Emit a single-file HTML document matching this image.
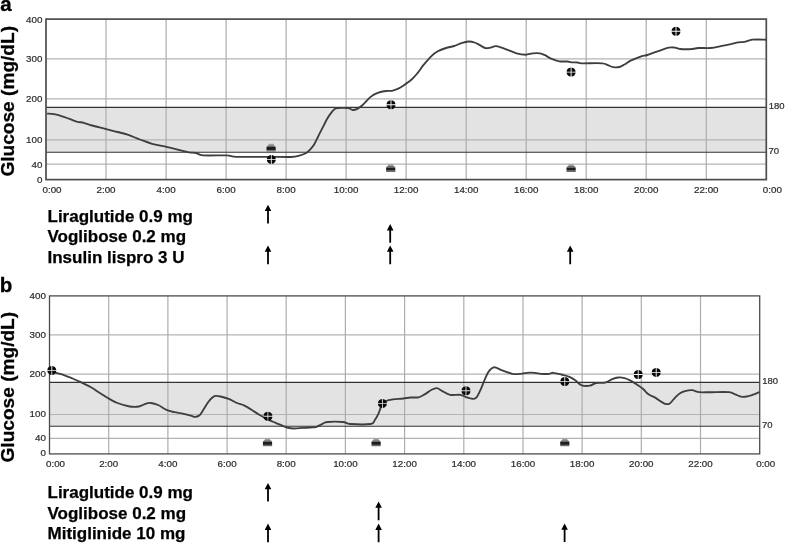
<!DOCTYPE html>
<html><head><meta charset="utf-8"><title>Glucose</title>
<style>
html,body{margin:0;padding:0;background:#fff;}
svg{display:block;}
text{font-family:"Liberation Sans",Arial,Helvetica,sans-serif;}
.t{font-size:10px;fill:#2c2c2c;stroke:#2c2c2c;stroke-width:0.22px;}
.p{font-size:20.5px;font-weight:bold;fill:#000;stroke:#000;stroke-width:0.3px;}
.g{font-weight:bold;fill:#000;stroke:#000;stroke-width:0.3px;}
.d{font-size:17px;font-weight:bold;fill:#000;stroke:#000;stroke-width:0.25px;}
</style></head><body>
<svg width="785" height="543" viewBox="0 0 785 543">
<rect width="785" height="543" fill="#fff"/>
<rect x="46.0" y="107.4" width="720.3" height="44.8" fill="#e3e3e3"/>
<line x1="46.0" x2="766.3" y1="164.1" y2="164.1" stroke="#b4b4b4" stroke-width="1.2"/>
<line x1="46.0" x2="766.3" y1="139.8" y2="139.8" stroke="#b4b4b4" stroke-width="1.2"/>
<line x1="46.0" x2="766.3" y1="98.8" y2="98.8" stroke="#b4b4b4" stroke-width="1.2"/>
<line x1="46.0" x2="766.3" y1="58.8" y2="58.8" stroke="#b4b4b4" stroke-width="1.2"/>
<line x1="106.0" x2="106.0" y1="19.1" y2="179.6" stroke="#adadad" stroke-width="1.2"/>
<line x1="166.1" x2="166.1" y1="19.1" y2="179.6" stroke="#adadad" stroke-width="1.2"/>
<line x1="226.1" x2="226.1" y1="19.1" y2="179.6" stroke="#adadad" stroke-width="1.2"/>
<line x1="286.1" x2="286.1" y1="19.1" y2="179.6" stroke="#adadad" stroke-width="1.2"/>
<line x1="346.1" x2="346.1" y1="19.1" y2="179.6" stroke="#adadad" stroke-width="1.2"/>
<line x1="406.1" x2="406.1" y1="19.1" y2="179.6" stroke="#adadad" stroke-width="1.2"/>
<line x1="466.2" x2="466.2" y1="19.1" y2="179.6" stroke="#adadad" stroke-width="1.2"/>
<line x1="526.2" x2="526.2" y1="19.1" y2="179.6" stroke="#adadad" stroke-width="1.2"/>
<line x1="586.2" x2="586.2" y1="19.1" y2="179.6" stroke="#adadad" stroke-width="1.2"/>
<line x1="646.2" x2="646.2" y1="19.1" y2="179.6" stroke="#adadad" stroke-width="1.2"/>
<line x1="706.3" x2="706.3" y1="19.1" y2="179.6" stroke="#adadad" stroke-width="1.2"/>
<line x1="46.0" x2="766.3" y1="152.2" y2="152.2" stroke="#333" stroke-width="1.1"/>
<line x1="46.0" x2="766.3" y1="107.4" y2="107.4" stroke="#333" stroke-width="1.1"/>
<rect x="46.0" y="19.1" width="720.3" height="160.5" fill="none" stroke="#4c4c4c" stroke-width="1.7"/>
<path d="M47.1,113.6C48.3,113.7 51.4,113.6 54.3,114.2C57.2,114.8 60.8,115.9 64.5,117.1C68.2,118.3 73.5,120.6 76.7,121.6C79.9,122.5 81.2,122.1 83.8,122.8C86.3,123.5 88.3,124.5 92.0,125.5C95.7,126.5 102.0,128.0 106.2,129.1C110.5,130.2 113.9,131.1 117.5,132.0C121.1,132.9 123.9,133.3 127.6,134.6C131.3,135.8 135.8,138.0 139.9,139.5C144.0,141.0 147.8,142.6 152.1,143.8C156.3,145.0 161.0,145.7 165.4,146.7C169.8,147.7 174.7,148.9 178.6,149.9C182.5,150.9 185.9,151.9 188.8,152.4C191.7,152.9 193.7,152.5 196.1,153.0C198.5,153.5 198.1,155.0 203.2,155.4C208.3,155.8 221.1,155.2 226.7,155.4C232.3,155.6 230.1,156.6 236.9,156.8C243.7,157.0 258.5,156.8 267.5,156.8C276.5,156.8 285.5,157.2 290.9,157.0C296.3,156.8 297.4,156.1 300.0,155.4C302.6,154.7 304.5,154.0 306.2,153.0C307.9,152.0 308.9,150.8 310.3,149.3C311.7,147.8 313.0,146.4 314.3,144.2C315.6,142.0 317.0,138.7 318.4,136.0C319.8,133.3 321.1,130.6 322.5,127.9C323.9,125.2 325.2,122.1 326.6,119.7C328.0,117.3 329.2,115.4 330.6,113.6C332.0,111.8 333.5,110.0 334.7,109.1C335.9,108.2 335.6,108.2 337.8,108.1C340.1,107.9 345.7,107.9 348.2,108.2C350.7,108.5 351.1,109.9 352.6,110.0C354.1,110.1 355.7,109.6 357.3,108.8C358.9,108.0 360.2,107.3 362.4,105.3C364.6,103.3 368.1,99.0 370.6,96.9C373.2,94.8 375.1,93.9 377.7,92.9C380.2,91.9 383.5,91.3 385.9,91.0C388.3,90.7 390.1,91.1 392.0,90.8C393.9,90.5 395.2,90.0 397.1,89.2C399.0,88.4 400.8,87.3 403.2,85.7C405.6,84.1 408.9,81.9 411.3,79.8C413.7,77.7 415.4,75.6 417.5,73.1C419.6,70.6 421.2,67.8 423.6,64.9C426.0,62.0 429.3,58.1 431.7,55.8C434.1,53.5 435.4,52.6 437.8,51.3C440.2,50.0 443.3,48.9 446.0,48.0C448.7,47.1 451.4,46.9 454.1,46.0C456.8,45.1 459.9,43.6 462.3,42.9C464.7,42.1 466.4,41.6 468.4,41.5C470.4,41.4 472.5,41.8 474.5,42.5C476.5,43.2 478.7,44.6 480.6,45.6C482.5,46.6 484.0,47.9 485.7,48.2C487.4,48.5 489.1,47.9 490.8,47.6C492.5,47.3 493.9,46.0 496.1,46.2C498.4,46.4 500.9,47.4 504.3,48.6C507.7,49.8 512.9,52.3 516.5,53.3C520.1,54.3 523.0,54.7 525.7,54.7C528.4,54.7 530.4,53.5 532.8,53.3C535.2,53.1 537.9,53.0 539.9,53.3C541.9,53.6 543.1,54.3 545.0,55.2C546.9,56.1 548.7,57.6 551.1,58.6C553.5,59.6 556.6,60.8 559.3,61.3C562.0,61.8 565.5,61.3 567.5,61.5C569.5,61.7 569.8,62.1 571.5,62.3C573.2,62.5 575.9,62.3 577.6,62.5C579.3,62.7 577.6,63.2 581.7,63.3C585.8,63.4 597.9,63.0 602.1,63.3C606.4,63.6 605.3,64.2 607.2,64.9C609.1,65.6 611.3,66.9 613.3,67.2C615.3,67.5 617.5,67.5 619.4,67.0C621.3,66.5 622.6,65.5 624.5,64.5C626.4,63.5 627.8,62.1 630.6,60.7C633.4,59.4 638.5,57.4 641.3,56.4C644.1,55.4 644.7,55.9 647.4,55.0C650.1,54.1 654.0,52.5 657.6,51.3C661.2,50.1 665.9,48.2 668.8,47.6C671.7,47.0 673.0,47.4 674.9,47.6C676.8,47.8 677.1,48.8 680.0,49.0C682.9,49.2 689.2,49.2 692.3,49.0C695.4,48.8 695.3,48.2 698.4,48.0C701.5,47.8 706.9,48.3 710.6,48.0C714.3,47.7 717.4,46.9 720.8,46.2C724.2,45.6 728.1,44.8 731.0,44.1C733.9,43.5 735.9,42.7 738.1,42.3C740.3,41.9 741.8,42.3 744.2,41.9C746.6,41.5 748.7,40.1 752.4,39.7C756.1,39.3 764.0,39.7 766.3,39.7" fill="none" stroke="#3e3e3e" stroke-width="1.85" stroke-linejoin="round"/>
<g transform="translate(271.1,147.8)"><rect x="-2.7" y="-4" width="5.4" height="1.9" fill="#9c9c9c"/><path d="M-3.3,-2.2H3.3L4.6,-0.8H-4.6Z" fill="#6a6a6a"/><rect x="-4.6" y="-0.8" width="9.2" height="3.2" fill="#1e1e1e"/><rect x="-4.6" y="2.4" width="9.2" height="1.3" fill="#6a6a6a"/></g>
<g transform="translate(390.7,168.3)"><rect x="-2.7" y="-4" width="5.4" height="1.9" fill="#9c9c9c"/><path d="M-3.3,-2.2H3.3L4.6,-0.8H-4.6Z" fill="#6a6a6a"/><rect x="-4.6" y="-0.8" width="9.2" height="3.2" fill="#1e1e1e"/><rect x="-4.6" y="2.4" width="9.2" height="1.3" fill="#6a6a6a"/></g>
<g transform="translate(571.1,168.3)"><rect x="-2.7" y="-4" width="5.4" height="1.9" fill="#9c9c9c"/><path d="M-3.3,-2.2H3.3L4.6,-0.8H-4.6Z" fill="#6a6a6a"/><rect x="-4.6" y="-0.8" width="9.2" height="3.2" fill="#1e1e1e"/><rect x="-4.6" y="2.4" width="9.2" height="1.3" fill="#6a6a6a"/></g>
<g transform="translate(271.3,159.4)"><path d="M-4.4,0H4.4M0,-4.4V4.4" stroke="#fff" stroke-width="0.9"/><path d="M0.45,0.45H4.48A4.5,4.5 0 0 1 0.45,4.48ZM-0.45,0.45V4.48A4.5,4.5 0 0 1 -4.48,0.45ZM-0.45,-0.45H-4.48A4.5,4.5 0 0 1 -0.45,-4.48ZM0.45,-0.45V-4.48A4.5,4.5 0 0 1 4.48,-0.45Z" fill="#0a0a0a"/></g>
<g transform="translate(391.0,104.7)"><path d="M-4.4,0H4.4M0,-4.4V4.4" stroke="#fff" stroke-width="0.9"/><path d="M0.45,0.45H4.48A4.5,4.5 0 0 1 0.45,4.48ZM-0.45,0.45V4.48A4.5,4.5 0 0 1 -4.48,0.45ZM-0.45,-0.45H-4.48A4.5,4.5 0 0 1 -0.45,-4.48ZM0.45,-0.45V-4.48A4.5,4.5 0 0 1 4.48,-0.45Z" fill="#0a0a0a"/></g>
<g transform="translate(571.1,72.1)"><path d="M-4.4,0H4.4M0,-4.4V4.4" stroke="#fff" stroke-width="0.9"/><path d="M0.45,0.45H4.48A4.5,4.5 0 0 1 0.45,4.48ZM-0.45,0.45V4.48A4.5,4.5 0 0 1 -4.48,0.45ZM-0.45,-0.45H-4.48A4.5,4.5 0 0 1 -0.45,-4.48ZM0.45,-0.45V-4.48A4.5,4.5 0 0 1 4.48,-0.45Z" fill="#0a0a0a"/></g>
<g transform="translate(676.0,31.3)"><path d="M-4.4,0H4.4M0,-4.4V4.4" stroke="#fff" stroke-width="0.9"/><path d="M0.45,0.45H4.48A4.5,4.5 0 0 1 0.45,4.48ZM-0.45,0.45V4.48A4.5,4.5 0 0 1 -4.48,0.45ZM-0.45,-0.45H-4.48A4.5,4.5 0 0 1 -0.45,-4.48ZM0.45,-0.45V-4.48A4.5,4.5 0 0 1 4.48,-0.45Z" fill="#0a0a0a"/></g>
<text transform="translate(42.4,183.0) scale(1,0.90)" text-anchor="end" class="t" style="font-size:9.8px">0</text>
<text transform="translate(42.4,167.5) scale(1,0.90)" text-anchor="end" class="t" style="font-size:9.8px">40</text>
<text transform="translate(42.4,143.2) scale(1,0.90)" text-anchor="end" class="t" style="font-size:9.8px">100</text>
<text transform="translate(42.4,102.2) scale(1,0.90)" text-anchor="end" class="t" style="font-size:9.8px">200</text>
<text transform="translate(42.4,62.2) scale(1,0.90)" text-anchor="end" class="t" style="font-size:9.8px">300</text>
<text transform="translate(42.4,22.5) scale(1,0.90)" text-anchor="end" class="t" style="font-size:9.8px">400</text>
<text transform="translate(768.8,109.4) scale(1,0.90)" text-anchor="start" class="t" style="font-size:9.5px">180</text>
<text transform="translate(768.4,154.2) scale(1,0.90)" text-anchor="start" class="t" style="font-size:9.5px">70</text>
<text transform="translate(52.0,193.3) scale(1,0.90)" text-anchor="middle" class="t" style="font-size:9.8px">0:00</text>
<text transform="translate(106.0,193.3) scale(1,0.90)" text-anchor="middle" class="t" style="font-size:9.8px">2:00</text>
<text transform="translate(166.1,193.3) scale(1,0.90)" text-anchor="middle" class="t" style="font-size:9.8px">4:00</text>
<text transform="translate(226.1,193.3) scale(1,0.90)" text-anchor="middle" class="t" style="font-size:9.8px">6:00</text>
<text transform="translate(286.1,193.3) scale(1,0.90)" text-anchor="middle" class="t" style="font-size:9.8px">8:00</text>
<text transform="translate(346.1,193.3) scale(1,0.90)" text-anchor="middle" class="t" style="font-size:9.8px">10:00</text>
<text transform="translate(406.1,193.3) scale(1,0.90)" text-anchor="middle" class="t" style="font-size:9.8px">12:00</text>
<text transform="translate(466.2,193.3) scale(1,0.90)" text-anchor="middle" class="t" style="font-size:9.8px">14:00</text>
<text transform="translate(526.2,193.3) scale(1,0.90)" text-anchor="middle" class="t" style="font-size:9.8px">16:00</text>
<text transform="translate(586.2,193.3) scale(1,0.90)" text-anchor="middle" class="t" style="font-size:9.8px">18:00</text>
<text transform="translate(646.2,193.3) scale(1,0.90)" text-anchor="middle" class="t" style="font-size:9.8px">20:00</text>
<text transform="translate(706.3,193.3) scale(1,0.90)" text-anchor="middle" class="t" style="font-size:9.8px">22:00</text>
<text transform="translate(772.3,193.3) scale(1,0.90)" text-anchor="middle" class="t" style="font-size:9.8px">0:00</text>
<rect x="49.5" y="382.4" width="710.2" height="43.9" fill="#e3e3e3"/>
<line x1="49.5" x2="759.7" y1="438.3" y2="438.3" stroke="#b4b4b4" stroke-width="1.2"/>
<line x1="49.5" x2="759.7" y1="414.5" y2="414.5" stroke="#b4b4b4" stroke-width="1.2"/>
<line x1="49.5" x2="759.7" y1="374.1" y2="374.1" stroke="#b4b4b4" stroke-width="1.2"/>
<line x1="49.5" x2="759.7" y1="334.9" y2="334.9" stroke="#b4b4b4" stroke-width="1.2"/>
<line x1="108.7" x2="108.7" y1="295.9" y2="453.9" stroke="#adadad" stroke-width="1.2"/>
<line x1="167.9" x2="167.9" y1="295.9" y2="453.9" stroke="#adadad" stroke-width="1.2"/>
<line x1="227.1" x2="227.1" y1="295.9" y2="453.9" stroke="#adadad" stroke-width="1.2"/>
<line x1="286.2" x2="286.2" y1="295.9" y2="453.9" stroke="#adadad" stroke-width="1.2"/>
<line x1="345.4" x2="345.4" y1="295.9" y2="453.9" stroke="#adadad" stroke-width="1.2"/>
<line x1="404.6" x2="404.6" y1="295.9" y2="453.9" stroke="#adadad" stroke-width="1.2"/>
<line x1="463.8" x2="463.8" y1="295.9" y2="453.9" stroke="#adadad" stroke-width="1.2"/>
<line x1="523.0" x2="523.0" y1="295.9" y2="453.9" stroke="#adadad" stroke-width="1.2"/>
<line x1="582.1" x2="582.1" y1="295.9" y2="453.9" stroke="#adadad" stroke-width="1.2"/>
<line x1="641.3" x2="641.3" y1="295.9" y2="453.9" stroke="#adadad" stroke-width="1.2"/>
<line x1="700.5" x2="700.5" y1="295.9" y2="453.9" stroke="#adadad" stroke-width="1.2"/>
<line x1="49.5" x2="759.7" y1="426.3" y2="426.3" stroke="#333" stroke-width="1.1"/>
<line x1="49.5" x2="759.7" y1="382.4" y2="382.4" stroke="#333" stroke-width="1.1"/>
<rect x="49.5" y="295.9" width="710.2" height="158.0" fill="none" stroke="#4c4c4c" stroke-width="1.3"/>
<path d="M50.2,370.4C51.2,370.8 53.9,372.0 56.3,372.8C58.7,373.6 61.8,374.4 64.5,375.3C67.2,376.2 69.9,377.4 72.6,378.5C75.3,379.6 77.7,380.7 80.8,382.2C83.9,383.7 87.6,385.4 91.0,387.3C94.4,389.2 98.0,391.9 101.1,393.8C104.1,395.7 106.6,397.4 109.3,398.9C112.0,400.4 114.1,401.7 117.5,403.0C120.9,404.3 126.1,405.9 129.7,406.5C133.3,407.1 136.2,407.0 138.9,406.5C141.6,406.0 144.0,404.2 146.0,403.6C148.0,403.0 149.1,402.8 151.1,403.0C153.1,403.2 155.6,403.9 158.2,405.0C160.8,406.1 163.7,408.7 166.4,409.9C169.1,411.1 171.8,411.6 174.5,412.2C177.2,412.8 180.0,413.0 182.7,413.6C185.4,414.2 188.7,415.1 190.8,415.6C192.9,416.2 193.7,416.9 195.1,416.9C196.5,416.9 197.8,416.7 199.2,415.6C200.5,414.5 201.7,412.4 203.2,410.1C204.7,407.8 206.8,404.1 208.3,402.0C209.8,399.9 211.2,398.5 212.4,397.5C213.6,396.5 214.1,396.1 215.5,395.9C216.9,395.7 218.4,396.0 220.6,396.5C222.8,397.0 226.0,397.8 228.7,398.9C231.4,400.0 234.3,401.9 236.9,403.0C239.5,404.1 241.6,404.3 244.0,405.4C246.4,406.5 248.5,407.9 251.1,409.5C253.7,411.1 256.6,413.2 259.3,414.8C262.0,416.4 264.8,418.0 267.5,419.3C270.2,420.6 273.2,421.8 275.6,422.8C278.0,423.8 279.8,424.6 281.7,425.4C283.6,426.2 284.8,427.0 286.8,427.5C288.9,428.0 291.4,428.4 294.0,428.5C296.6,428.6 299.4,428.1 302.1,427.9C304.8,427.7 307.9,427.7 310.3,427.5C312.7,427.3 314.4,427.4 316.4,426.8C318.4,426.2 320.6,424.6 322.5,423.8C324.4,423.0 324.2,422.3 327.6,422.0C331.0,421.7 339.1,421.7 342.9,422.0C346.7,422.3 345.6,423.7 350.2,424.0C354.8,424.3 366.5,424.6 370.6,424.0C374.7,423.4 373.4,422.1 374.7,420.3C376.0,418.5 377.5,415.8 378.7,413.2C379.9,410.6 380.6,407.0 381.8,405.0C383.0,403.0 384.0,401.9 385.9,401.0C387.8,400.1 390.1,399.7 393.0,399.3C395.9,398.9 400.3,398.8 403.2,398.5C406.1,398.2 407.8,397.7 410.3,397.5C412.9,397.3 416.1,397.8 418.5,397.3C420.9,396.8 422.4,395.7 424.6,394.4C426.8,393.1 429.7,390.8 431.7,389.7C433.7,388.6 435.1,387.9 436.8,388.1C438.5,388.3 439.7,389.7 441.9,390.8C444.1,391.9 447.0,394.1 450.1,394.8C453.2,395.5 457.6,394.4 460.3,394.8C463.0,395.2 464.4,396.6 466.4,397.3C468.4,398.0 470.8,398.9 472.5,398.9C474.2,398.9 475.2,398.8 476.6,397.3C478.0,395.8 479.2,392.6 480.6,389.7C482.0,386.8 483.3,382.7 484.7,379.6C486.1,376.6 487.2,373.4 488.8,371.4C490.4,369.3 491.9,367.5 494.1,367.3C496.3,367.1 499.1,369.3 502.2,370.4C505.2,371.5 509.3,373.2 512.4,373.8C515.5,374.4 518.2,374.0 520.6,373.8C523.0,373.6 524.3,373.0 526.7,372.8C529.1,372.6 532.4,372.6 534.8,372.8C537.2,373.0 538.6,373.6 541.0,373.8C543.4,374.0 547.1,374.0 549.1,373.8C551.1,373.6 551.2,372.7 553.2,372.8C555.2,372.9 558.6,373.8 561.3,374.5C564.0,375.2 567.1,375.9 569.5,376.9C571.9,377.9 573.6,379.2 575.6,380.6C577.6,382.0 579.3,384.5 581.7,385.3C584.1,386.1 587.5,386.1 589.9,385.7C592.3,385.3 593.5,383.5 596.0,383.0C598.5,382.5 602.5,383.2 605.2,382.6C607.9,382.0 610.1,380.0 612.3,379.1C614.5,378.2 616.4,377.7 618.4,377.5C620.4,377.3 622.5,377.6 624.5,378.1C626.5,378.6 628.6,379.6 630.6,380.6C632.6,381.7 634.8,383.0 636.8,384.4C638.8,385.8 640.9,387.1 642.9,388.8C644.9,390.5 646.4,392.8 648.5,394.3C650.6,395.8 653.4,396.6 655.6,397.9C657.8,399.2 660.0,401.0 661.7,402.0C663.4,403.0 664.4,403.8 665.8,404.0C667.1,404.2 668.3,404.4 669.8,403.4C671.3,402.4 673.2,399.6 674.9,397.9C676.6,396.2 678.1,394.4 680.0,393.2C681.9,392.0 684.1,391.3 686.1,390.8C688.1,390.3 690.1,390.0 692.3,390.2C694.5,390.4 696.3,391.9 699.4,392.2C702.5,392.5 705.7,392.2 710.6,392.2C715.5,392.2 724.9,391.8 729.0,392.2C733.1,392.6 732.9,393.6 735.1,394.4C737.3,395.2 739.8,396.6 742.2,396.9C744.6,397.1 747.1,396.4 749.3,395.9C751.5,395.4 753.7,394.4 755.4,393.8C757.1,393.2 758.8,392.5 759.5,392.2" fill="none" stroke="#3e3e3e" stroke-width="1.85" stroke-linejoin="round"/>
<g transform="translate(267.5,442.5)"><rect x="-2.7" y="-4" width="5.4" height="1.9" fill="#9c9c9c"/><path d="M-3.3,-2.2H3.3L4.6,-0.8H-4.6Z" fill="#6a6a6a"/><rect x="-4.6" y="-0.8" width="9.2" height="3.2" fill="#1e1e1e"/><rect x="-4.6" y="2.4" width="9.2" height="1.3" fill="#6a6a6a"/></g>
<g transform="translate(376.1,442.5)"><rect x="-2.7" y="-4" width="5.4" height="1.9" fill="#9c9c9c"/><path d="M-3.3,-2.2H3.3L4.6,-0.8H-4.6Z" fill="#6a6a6a"/><rect x="-4.6" y="-0.8" width="9.2" height="3.2" fill="#1e1e1e"/><rect x="-4.6" y="2.4" width="9.2" height="1.3" fill="#6a6a6a"/></g>
<g transform="translate(564.8,442.5)"><rect x="-2.7" y="-4" width="5.4" height="1.9" fill="#9c9c9c"/><path d="M-3.3,-2.2H3.3L4.6,-0.8H-4.6Z" fill="#6a6a6a"/><rect x="-4.6" y="-0.8" width="9.2" height="3.2" fill="#1e1e1e"/><rect x="-4.6" y="2.4" width="9.2" height="1.3" fill="#6a6a6a"/></g>
<g transform="translate(51.8,370.4)"><path d="M-4.4,0H4.4M0,-4.4V4.4" stroke="#fff" stroke-width="0.9"/><path d="M0.45,0.45H4.48A4.5,4.5 0 0 1 0.45,4.48ZM-0.45,0.45V4.48A4.5,4.5 0 0 1 -4.48,0.45ZM-0.45,-0.45H-4.48A4.5,4.5 0 0 1 -0.45,-4.48ZM0.45,-0.45V-4.48A4.5,4.5 0 0 1 4.48,-0.45Z" fill="#0a0a0a"/></g>
<g transform="translate(267.9,416.2)"><path d="M-4.4,0H4.4M0,-4.4V4.4" stroke="#e3e3e3" stroke-width="0.9"/><path d="M0.45,0.45H4.48A4.5,4.5 0 0 1 0.45,4.48ZM-0.45,0.45V4.48A4.5,4.5 0 0 1 -4.48,0.45ZM-0.45,-0.45H-4.48A4.5,4.5 0 0 1 -0.45,-4.48ZM0.45,-0.45V-4.48A4.5,4.5 0 0 1 4.48,-0.45Z" fill="#0a0a0a"/></g>
<g transform="translate(382.4,403.4)"><path d="M-4.4,0H4.4M0,-4.4V4.4" stroke="#e3e3e3" stroke-width="0.9"/><path d="M0.45,0.45H4.48A4.5,4.5 0 0 1 0.45,4.48ZM-0.45,0.45V4.48A4.5,4.5 0 0 1 -4.48,0.45ZM-0.45,-0.45H-4.48A4.5,4.5 0 0 1 -0.45,-4.48ZM0.45,-0.45V-4.48A4.5,4.5 0 0 1 4.48,-0.45Z" fill="#0a0a0a"/></g>
<g transform="translate(466.0,390.8)"><path d="M-4.4,0H4.4M0,-4.4V4.4" stroke="#e3e3e3" stroke-width="0.9"/><path d="M0.45,0.45H4.48A4.5,4.5 0 0 1 0.45,4.48ZM-0.45,0.45V4.48A4.5,4.5 0 0 1 -4.48,0.45ZM-0.45,-0.45H-4.48A4.5,4.5 0 0 1 -0.45,-4.48ZM0.45,-0.45V-4.48A4.5,4.5 0 0 1 4.48,-0.45Z" fill="#0a0a0a"/></g>
<g transform="translate(564.8,381.6)"><path d="M-4.4,0H4.4M0,-4.4V4.4" stroke="#fff" stroke-width="0.9"/><path d="M0.45,0.45H4.48A4.5,4.5 0 0 1 0.45,4.48ZM-0.45,0.45V4.48A4.5,4.5 0 0 1 -4.48,0.45ZM-0.45,-0.45H-4.48A4.5,4.5 0 0 1 -0.45,-4.48ZM0.45,-0.45V-4.48A4.5,4.5 0 0 1 4.48,-0.45Z" fill="#0a0a0a"/></g>
<g transform="translate(638.2,374.5)"><path d="M-4.4,0H4.4M0,-4.4V4.4" stroke="#fff" stroke-width="0.9"/><path d="M0.45,0.45H4.48A4.5,4.5 0 0 1 0.45,4.48ZM-0.45,0.45V4.48A4.5,4.5 0 0 1 -4.48,0.45ZM-0.45,-0.45H-4.48A4.5,4.5 0 0 1 -0.45,-4.48ZM0.45,-0.45V-4.48A4.5,4.5 0 0 1 4.48,-0.45Z" fill="#0a0a0a"/></g>
<g transform="translate(656.2,372.4)"><path d="M-4.4,0H4.4M0,-4.4V4.4" stroke="#fff" stroke-width="0.9"/><path d="M0.45,0.45H4.48A4.5,4.5 0 0 1 0.45,4.48ZM-0.45,0.45V4.48A4.5,4.5 0 0 1 -4.48,0.45ZM-0.45,-0.45H-4.48A4.5,4.5 0 0 1 -0.45,-4.48ZM0.45,-0.45V-4.48A4.5,4.5 0 0 1 4.48,-0.45Z" fill="#0a0a0a"/></g>
<text transform="translate(45.9,456.4) scale(1,0.90)" text-anchor="end" class="t" style="font-size:9.8px">0</text>
<text transform="translate(45.9,440.9) scale(1,0.90)" text-anchor="end" class="t" style="font-size:9.8px">40</text>
<text transform="translate(45.9,417.1) scale(1,0.90)" text-anchor="end" class="t" style="font-size:9.8px">100</text>
<text transform="translate(45.9,376.7) scale(1,0.90)" text-anchor="end" class="t" style="font-size:9.8px">200</text>
<text transform="translate(45.9,337.5) scale(1,0.90)" text-anchor="end" class="t" style="font-size:9.8px">300</text>
<text transform="translate(45.9,298.5) scale(1,0.90)" text-anchor="end" class="t" style="font-size:9.8px">400</text>
<text transform="translate(762.3,384.4) scale(1,0.90)" text-anchor="start" class="t" style="font-size:9.5px">180</text>
<text transform="translate(761.9,428.3) scale(1,0.90)" text-anchor="start" class="t" style="font-size:9.5px">70</text>
<text transform="translate(55.5,467.1) scale(1,0.90)" text-anchor="middle" class="t" style="font-size:9.8px">0:00</text>
<text transform="translate(108.7,467.1) scale(1,0.90)" text-anchor="middle" class="t" style="font-size:9.8px">2:00</text>
<text transform="translate(167.9,467.1) scale(1,0.90)" text-anchor="middle" class="t" style="font-size:9.8px">4:00</text>
<text transform="translate(227.1,467.1) scale(1,0.90)" text-anchor="middle" class="t" style="font-size:9.8px">6:00</text>
<text transform="translate(286.2,467.1) scale(1,0.90)" text-anchor="middle" class="t" style="font-size:9.8px">8:00</text>
<text transform="translate(345.4,467.1) scale(1,0.90)" text-anchor="middle" class="t" style="font-size:9.8px">10:00</text>
<text transform="translate(404.6,467.1) scale(1,0.90)" text-anchor="middle" class="t" style="font-size:9.8px">12:00</text>
<text transform="translate(463.8,467.1) scale(1,0.90)" text-anchor="middle" class="t" style="font-size:9.8px">14:00</text>
<text transform="translate(523.0,467.1) scale(1,0.90)" text-anchor="middle" class="t" style="font-size:9.8px">16:00</text>
<text transform="translate(582.1,467.1) scale(1,0.90)" text-anchor="middle" class="t" style="font-size:9.8px">18:00</text>
<text transform="translate(641.3,467.1) scale(1,0.90)" text-anchor="middle" class="t" style="font-size:9.8px">20:00</text>
<text transform="translate(700.5,467.1) scale(1,0.90)" text-anchor="middle" class="t" style="font-size:9.8px">22:00</text>
<text transform="translate(765.7,467.1) scale(1,0.90)" text-anchor="middle" class="t" style="font-size:9.8px">0:00</text>
<path d="M268.0,204.8 l3.3,6.3 h-2.4 v12.4 h-1.8 v-12.4 h-2.4 z" fill="#000"/>
<path d="M268.0,245.5 l3.3,6.3 h-2.4 v12.4 h-1.8 v-12.4 h-2.4 z" fill="#000"/>
<path d="M390.2,224.1 l3.3,6.3 h-2.4 v12.4 h-1.8 v-12.4 h-2.4 z" fill="#000"/>
<path d="M390.2,245.5 l3.3,6.3 h-2.4 v12.4 h-1.8 v-12.4 h-2.4 z" fill="#000"/>
<path d="M570.2,245.5 l3.3,6.3 h-2.4 v12.4 h-1.8 v-12.4 h-2.4 z" fill="#000"/>
<path d="M268.0,482.9 l3.3,6.3 h-2.4 v12.4 h-1.8 v-12.4 h-2.4 z" fill="#000"/>
<path d="M268.0,523.6 l3.3,6.3 h-2.4 v12.4 h-1.8 v-12.4 h-2.4 z" fill="#000"/>
<path d="M378.6,501.5 l3.3,6.3 h-2.4 v12.4 h-1.8 v-12.4 h-2.4 z" fill="#000"/>
<path d="M378.6,523.6 l3.3,6.3 h-2.4 v12.4 h-1.8 v-12.4 h-2.4 z" fill="#000"/>
<path d="M564.6,523.4 l3.3,6.3 h-2.4 v12.4 h-1.8 v-12.4 h-2.4 z" fill="#000"/>
<text x="0.2" y="10.7" class="p">a</text>
<text x="-0.3" y="291.6" class="p">b</text>
<text transform="translate(13.9,176.6) rotate(-90)" class="g" style="font-size:19.1px">Glucose (mg/dL)</text>
<text transform="translate(14.1,462.5) rotate(-90)" class="g" style="font-size:19.1px">Glucose (mg/dL)</text>
<text x="47.5" y="222.3" class="d">Liraglutide 0.9 mg</text>
<text x="47.5" y="242.4" class="d">Voglibose 0.2 mg</text>
<text x="47.5" y="262.5" class="d">Insulin lispro 3 U</text>
<text x="47.5" y="498.2" class="d">Liraglutide 0.9 mg</text>
<text x="47.5" y="518.5" class="d">Voglibose 0.2 mg</text>
<text x="47.5" y="538.7" class="d">Mitiglinide 10 mg</text>
</svg>
</body></html>
